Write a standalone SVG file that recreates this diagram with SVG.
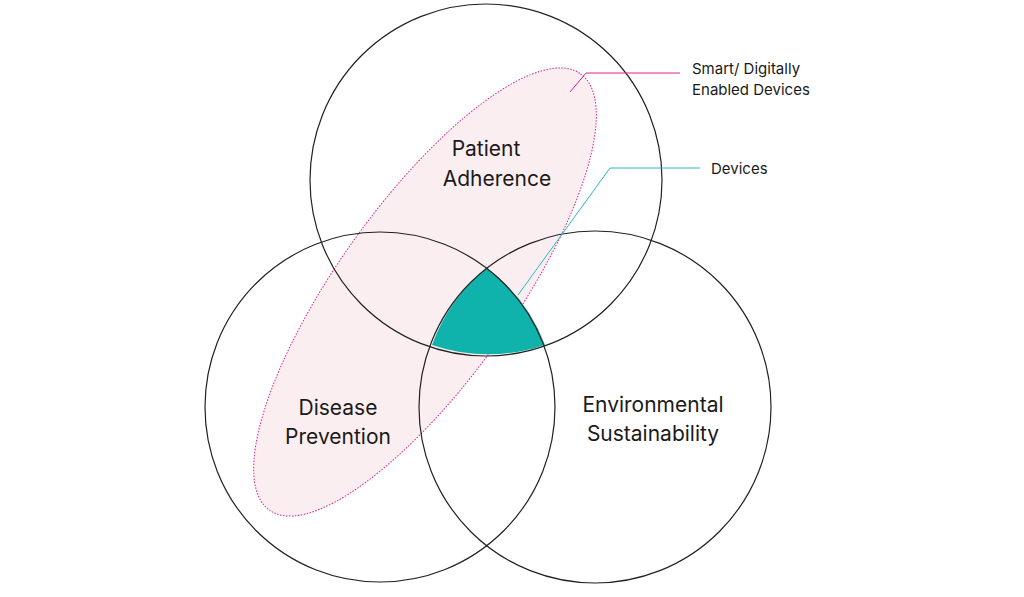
<svg xmlns="http://www.w3.org/2000/svg" width="1024" height="597" viewBox="0 0 1024 597">
<style>
.c{fill:none;stroke:#222;stroke-width:1.2}
.t{font-family:"Inter","Liberation Sans",sans-serif;font-size:21px;fill:#1a1a1a;text-anchor:middle}
.s{font-family:"Inter","Liberation Sans",sans-serif;font-size:15px;fill:#1a1a1a}
</style>
<rect width="1024" height="597" fill="#fff"/>
<g id="smart-ellipse"><ellipse cx="425" cy="292" rx="268" ry="88" transform="rotate(-54.5 425 292)" fill="#fbeef0" stroke="#e0208a" stroke-width="1" stroke-dasharray="1.5 1.5"/></g>
<g id="devices-region"><path d="M487,268 A176,176 0 0 0 432,345 A176,176 0 0 0 545,345 A175,175 0 0 0 487,268 Z" fill="#0fb3ab"/></g>
<g id="patient-adherence"><circle class="c" cx="486" cy="180" r="176"/><text class="t" x="486" y="156">Patient</text><text class="t" x="497" y="186">Adherence</text></g>
<g id="disease-prevention"><circle class="c" cx="380" cy="407" r="175"/><text class="t" x="338" y="415">Disease</text><text class="t" x="338" y="444">Prevention</text></g>
<g id="environmental-sustainability"><circle class="c" cx="595" cy="407" r="176"/><text class="t" x="653" y="412">Environmental</text><text class="t" x="653" y="441">Sustainability</text></g>
<g id="connectors" fill="none" stroke-width="1">
<polyline points="570,92 586,73 680,73" stroke="#e0208a"/>
<polyline points="518,295 610,168 700,168" stroke="#2ab8c8"/>
</g>
<g id="labels"><text class="s" x="692" y="74">Smart/ Digitally</text><text class="s" x="692" y="95">Enabled Devices</text><text class="s" x="711" y="174">Devices</text></g>
</svg>
